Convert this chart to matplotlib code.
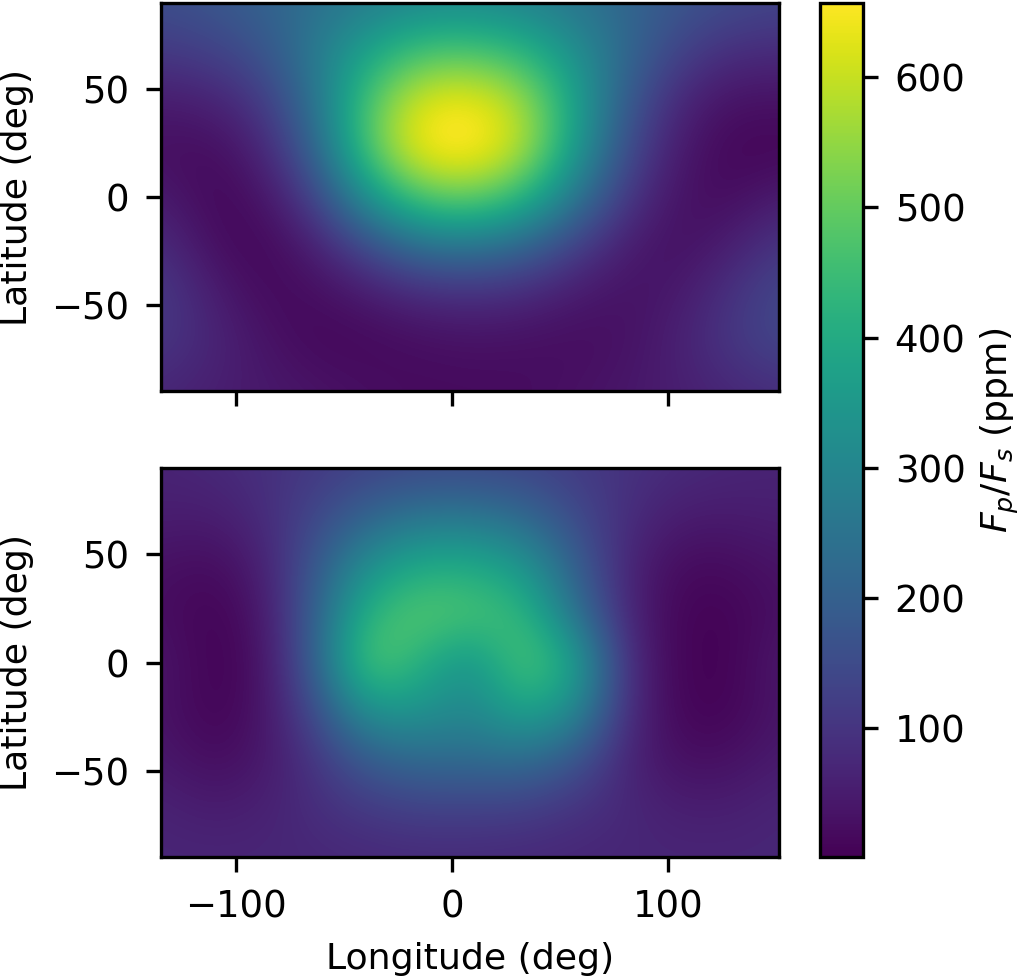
#!/usr/bin/env python3
"""Dayside flux maps, two orbital phases, shared colourbar."""

import numpy as np
import matplotlib
matplotlib.use('Agg')
import matplotlib.pyplot as plt

W, H = 1020, 977

# Values, in ppm
lons = [-135, -111, -87, -63, -39, -15, 9, 33, 57, 81, 105, 129, 153]
lats = [90, 67.5, 45, 22.5, 0, -22.5, -45, -67.5, -90]

flux_top = [
    [155, 175, 205, 240, 275, 300, 305, 290, 255, 215, 175, 150, 135],
    [110, 125, 170, 270, 380, 465, 475, 430, 330, 220, 130, 85, 80],
    [50, 60, 110, 250, 475, 625, 650, 570, 380, 185, 70, 30, 30],
    [25, 20, 65, 210, 485, 660, 680, 595, 365, 150, 45, 10, 10],
    [50, 12, 30, 130, 340, 485, 515, 435, 265, 105, 30, 20, 50],
    [85, 25, 10, 55, 150, 240, 255, 215, 125, 50, 25, 55, 105],
    [115, 55, 18, 20, 45, 75, 85, 75, 45, 30, 45, 95, 145],
    [105, 70, 35, 15, 15, 22, 28, 25, 22, 30, 60, 105, 140],
    [70, 55, 45, 35, 25, 20, 20, 22, 30, 40, 55, 70, 85],
]

flux_bottom = [
    [65, 75, 90, 110, 130, 140, 140, 135, 115, 95, 80, 70, 65],
    [55, 50, 80, 140, 210, 255, 260, 225, 150, 85, 50, 48, 55],
    [30, 18, 55, 180, 330, 400, 400, 350, 200, 65, 18, 20, 35],
    [25, 5, 35, 200, 430, 490, 475, 440, 250, 65, 8, 6, 30],
    [40, 3, 25, 200, 500, 420, 320, 490, 395, 80, 6, 5, 45],
    [35, 5, 30, 150, 340, 340, 300, 390, 325, 80, 8, 8, 40],
    [45, 20, 40, 100, 190, 225, 225, 235, 175, 65, 25, 28, 50],
    [65, 50, 60, 85, 110, 125, 125, 120, 95, 75, 55, 55, 70],
    [70, 70, 70, 72, 75, 78, 78, 75, 72, 70, 70, 70, 70],
]

lon_ticks = [-100, 0, 100]
lat_ticks = [-50, 0, 50]
cbar_ticks = [100, 200, 300, 400, 500, 600]
vmin, vmax = 1, 657


def px_axes(fig, x0, y0, x1, y1):
    # pixel box measured from the top left of the image
    return fig.add_axes([x0 / W, 1 - y1 / H, (x1 - x0) / W, (y1 - y0) / H])


plt.rcParams['font.size'] = 8.7
plt.rcParams['xtick.labelsize'] = 8.9
plt.rcParams['ytick.labelsize'] = 8.9
plt.rcParams['xtick.major.size'] = 3.7
plt.rcParams['ytick.major.size'] = 3.7
plt.rcParams['xtick.major.pad'] = 3.9
plt.rcParams['ytick.major.pad'] = 3.9

fig = plt.figure(figsize=(W / 300, H / 300), dpi=300)
ax1 = px_axes(fig, 161, 3, 779, 391)
ax2 = px_axes(fig, 161, 468, 779, 857)
cax = px_axes(fig, 820, 3, 863, 857)

dlon = (lons[1] - lons[0]) / 2
dlat = (lats[0] - lats[1]) / 2
extent = [lons[0] - dlon, lons[-1] + dlon, lats[-1] - dlat, lats[0] + dlat]

for ax, flux in [(ax1, flux_top), (ax2, flux_bottom)]:
    im = ax.imshow(np.array(flux), extent=extent, aspect='auto', cmap='viridis',
                   vmin=vmin, vmax=vmax, interpolation='bicubic', origin='upper')
    ax.set_xlim(-134.7, 151.4)
    ax.set_ylim(-90, 90)
    ax.set_xticks(lon_ticks)
    ax.set_yticks(lat_ticks)
    ax.set_ylabel('Latitude (deg)')
    ax.yaxis.set_label_coords(-0.205, 0.5)

ax1.set_xticklabels([])
ax2.set_xlabel('Longitude (deg)')

cb = fig.colorbar(im, cax=cax)
cb.set_ticks(cbar_ticks)
cb.set_label(r'$F_p/F_s$ (ppm)', labelpad=3.2)

fig.savefig('out.png', dpi=300)
